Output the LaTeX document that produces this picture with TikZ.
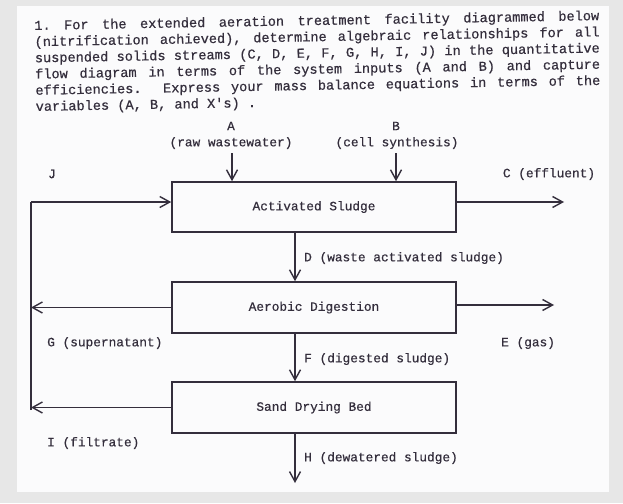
\documentclass[tikz,border=0pt]{standalone}
\usepackage{fontspec}
\setmainfont{Liberation Mono}[UprightFeatures={FakeBold=0.5}]
\usetikzlibrary{arrows.meta,positioning,calc}
\definecolor{scanInk}{RGB}{52,46,60}
\definecolor{scanGray}{RGB}{231,231,231}
\definecolor{paperWhite}{RGB}{251,251,252}

\begin{document}
\begin{tikzpicture}[x=1pt,y=-1pt,
    unit/.style={draw=scanInk,line width=1.6pt,minimum width=284pt,minimum height=50pt,inner sep=0pt,font=\fontsize{12.8}{15}\selectfont,text=scanInk},
    lbl/.style={inner sep=0pt,font=\fontsize{12.8}{15}\selectfont,text=scanInk},
    para/.style={inner sep=0pt,align=left,font=\fontsize{13.6}{16.2}\selectfont,text=scanInk},
    flow/.style={draw=scanInk,line width=1.5pt,-{Straight Barb[length=10pt,width=11pt,line width=1.4pt]}},
    pipe/.style={draw=scanInk,line width=1.5pt}
  ]
  \fill[scanGray] (0,0) rectangle (623,503);
  \useasboundingbox (0,0) rectangle (623,503);
  \fill[paperWhite] (17,6) rectangle (609,492);

  % question text
  \node[para,rotate=1] (question) at (317.5,62) {\frenchspacing\spaceskip=0.6em plus 1em minus 0.05em
    \makebox[565pt][s]{1. For the extended aeration treatment facility diagrammed below}\\
    \makebox[565pt][s]{(nitrification achieved), determine algebraic relationships for all}\\
    \makebox[565pt][s]{suspended solids streams (C, D, E, F, G, H, I, J) in the quantitative}\\
    \makebox[565pt][s]{flow diagram in terms of the system inputs (A and B) and capture}\\
    \makebox[565pt][s]{efficiencies.\ \ Express your mass balance equations in terms of the}\\
    variables (A, B, and X\textquotesingle s) .};

  % units
  \node[unit] (sludge) at (314,207) {Activated Sludge};
  \node[unit,minimum height=51pt] (digest) at (314,307.5) {Aerobic Digestion};
  \node[unit,minimum height=51pt] (bed) at (314,407.5) {Sand Drying Bed};

  % stream labels
  \node[lbl] (aLbl) at (231,126) {A};
  \node[lbl] (aNote) at (231,143) {(raw wastewater)};
  \node[lbl] (bLbl) at (396,126) {B};
  \node[lbl] (bNote) at (397,143) {(cell synthesis)};
  \node[lbl] (jLbl) at (52,174) {J};
  \node[lbl] (cLbl) at (549,174) {C (effluent)};
  \node[lbl,anchor=west] (dLbl) at (304,258) {D (waste activated sludge)};
  \node[lbl,anchor=west] (gLbl) at (47,343) {G (supernatant)};
  \node[lbl,anchor=west] (eLbl) at (501,343) {E (gas)};
  \node[lbl,anchor=west] (fLbl) at (304,359) {F (digested sludge)};
  \node[lbl,anchor=west] (iLbl) at (47,443) {I (filtrate)};
  \node[lbl,anchor=west] (hLbl) at (304,458) {H (dewatered sludge)};

  \coordinate (aIn) at (232,153);
  \coordinate (bIn) at (396,153);
  \coordinate (jTop) at (31,202);
  \coordinate (jBot) at (31,410);
  \coordinate (cOut) at (564,202);
  \coordinate (eOut) at (554,305);
  \coordinate (spine) at (295,0);
  \coordinate (hOut) at (295,483);

  % streams
  \draw[flow] (aIn) -- (aIn |- sludge.north);
  \draw[flow] (bIn) -- (bIn |- sludge.north);
  \draw[flow] (cOut -| sludge.east) -- (cOut);
  \draw[flow] (eOut -| digest.east) -- (eOut);
  \draw[flow] (sludge.south -| spine) -- (digest.north -| spine);
  \draw[flow] (digest.south -| spine) -- (bed.north -| spine);
  \draw[flow] (bed.south -| spine) -- (hOut);
  \draw[pipe] (jBot) -- (jTop);
  \draw[flow] (jTop) -- (jTop -| sludge.west);
  \draw[flow] (digest.west) -- (digest.west -| jTop);
  \draw[flow] (bed.west) -- (bed.west -| jTop);
\end{tikzpicture}
\end{document}
